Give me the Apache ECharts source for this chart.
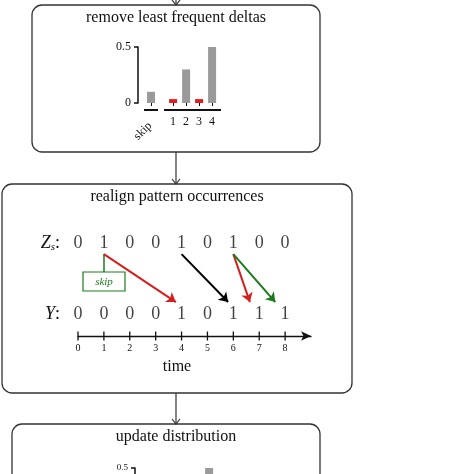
<!DOCTYPE html>
<html>
<head>
<meta charset="utf-8">
<script src="https://cdn.jsdelivr.net/npm/echarts@6/dist/echarts.min.js"></script>
<style>html,body{margin:0;background:#fff}#c{width:474px;height:474px}</style>
</head>
<body>
<div id="c"></div>
<script>
// delta distribution (top box)
var deltaPos = [-0.7, 1, 2, 3, 4];
var deltaVal = [0.1, 0.035, 0.3, 0.035, 0.5];
var deltaRemoved = [false, true, false, true, false];
// updated distribution (bottom box, mostly cut off)
var updPos = [4];
var updVal = [0.5];
// pattern rows
var zsRow = [0, 1, 0, 0, 1, 0, 1, 0, 0];
var yRow = [0, 0, 0, 0, 1, 0, 1, 1, 1];
var timeTicks = [0, 1, 2, 3, 4, 5, 6, 7, 8];
// realign arrows: [from index, to position, colour]
var moves = [[1, 3.78, '#d41f1f'], [4, 5.8, '#000'], [6, 6.64, '#d41f1f'], [6, 7.62, '#1d7a1d']];

var serif = 'Liberation Serif';
var Chart = echarts.init(document.getElementById('c'));

function arrowDown(x, y1, y2) {
    return [
        {type: 'line', shape: {x1: x, y1: y1, x2: x, y2: y2}, style: {stroke: '#333', lineWidth: 1.2}},
        {type: 'polyline', shape: {points: [[x - 4, y2 - 5], [x, y2], [x + 4, y2 - 5]]}, style: {stroke: '#333', lineWidth: 1.2, fill: null}}
    ];
}
function box(x, y, w, h) {
    return {type: 'rect', shape: {x: x, y: y, width: w, height: h, r: 10}, style: {stroke: '#333', lineWidth: 1.3, fill: null}, z: -1};
}
function title(t, x, y) {
    return {type: 'text', x: x, y: y, style: {text: t, font: '16px ' + serif, fill: '#111', align: 'center', verticalAlign: 'middle'}};
}

var graphics = [].concat(
    arrowDown(176, -2, 5), arrowDown(176, 152, 184), arrowDown(176, 393, 424),
    [box(32, 5, 288, 147), box(2, 184, 350, 209), box(12, 424, 308, 80),
     title('remove least frequent deltas', 176, 18),
     title('realign pattern occurrences', 177, 197),
     title('update distribution', 176, 437),
     {type: 'line', shape: {x1: 144, y1: 110, x2: 158, y2: 110}, style: {stroke: '#111', lineWidth: 2}},
     {type: 'line', shape: {x1: 164, y1: 110, x2: 221, y2: 110}, style: {stroke: '#111', lineWidth: 2}},
     {type: 'text', x: 150, y: 124, rotation: Math.PI / 4, style: {text: 'skip', font: '12px ' + serif, fill: '#111', align: 'right', verticalAlign: 'middle'}},
     {type: 'text', x: 60, y: 243, style: {
         text: '{z|Z}{s|s}{c|:}', align: 'right', verticalAlign: 'middle',
         rich: {z: {font: 'italic 18px ' + serif, fill: '#111'}, s: {font: 'italic 11px ' + serif, fill: '#111', padding: [8, 0, 0, 0]}, c: {font: '18px ' + serif, fill: '#111'}}}},
     {type: 'text', x: 60, y: 314, style: {
         text: '{z|Y}{c|:}', align: 'right', verticalAlign: 'middle',
         rich: {z: {font: 'italic 18px ' + serif, fill: '#111'}, c: {font: '18px ' + serif, fill: '#111'}}}},
     {type: 'line', shape: {x1: 104, y1: 254, x2: 104, y2: 272}, style: {stroke: '#1d7a1d', lineWidth: 1.5}},
     {type: 'rect', shape: {x: 83, y: 272, width: 42, height: 19}, style: {stroke: '#1d7a1d', lineWidth: 1.2, fill: '#fff'}},
     {type: 'text', x: 104, y: 282, style: {text: 'skip', font: 'italic 11px ' + serif, fill: '#1d7a1d', align: 'center', verticalAlign: 'middle'}},
     {type: 'text', x: 177, y: 367, style: {text: 'time', font: '16px ' + serif, fill: '#111', align: 'center', verticalAlign: 'middle'}}]
);

var yAx = function (grid, fs) {
    return {type: 'value', gridIndex: grid, min: 0, max: 0.5, interval: 0.5, splitLine: {show: false},
        axisLine: {show: true, onZero: false, lineStyle: {color: '#111', width: 1.5}},
        axisTick: {show: true, length: 4, lineStyle: {color: '#111', width: 1.5}},
        axisLabel: {fontFamily: serif, fontSize: fs, color: '#111', margin: 7}};
};

var option = {
    animation: false,
    graphic: graphics,
    grid: [
        {left: 138, top: 47, width: 80.6, height: 56},
        {left: 78, top: 243, width: 233, height: 93},
        {left: 135, top: 468, width: 80.6, height: 56}
    ],
    xAxis: [
        {type: 'value', gridIndex: 0, min: -1.7, max: 4.5, offset: 7, splitLine: {show: false}, axisLine: {show: false},
         axisTick: {show: true, customValues: deltaPos, length: 3, lineStyle: {color: '#111'}},
         axisLabel: {customValues: [1, 2, 3, 4], margin: 6, fontFamily: serif, fontSize: 12, color: '#111'}},
        {type: 'value', gridIndex: 1, min: 0, max: 9, splitLine: {show: false},
         axisLine: {symbol: ['none', 'arrow'], symbolSize: [7, 10], lineStyle: {color: '#111', width: 1.3}},
         axisTick: {show: false},
         axisLabel: {customValues: timeTicks, margin: 7, fontFamily: serif, fontSize: 10, color: '#111'}},
        {type: 'value', gridIndex: 2, min: -1.7, max: 4.5, show: false}
    ],
    yAxis: [
        yAx(0, 12),
        {type: 'value', gridIndex: 1, min: 0, max: 1, show: false},
        yAx(2, 9)
    ],
    series: [
        {type: 'bar', xAxisIndex: 0, yAxisIndex: 0, barWidth: 8,
         data: deltaPos.map(function (p, i) {
             return {value: [p, deltaVal[i]], itemStyle: {color: deltaRemoved[i] ? '#e61c1c' : '#9a9a9a'}};
         })},
        {type: 'bar', xAxisIndex: 2, yAxisIndex: 2, barWidth: 8, itemStyle: {color: '#9a9a9a'},
         data: updPos.map(function (p, i) { return [p, updVal[i]]; })},
        {type: 'scatter', xAxisIndex: 1, yAxisIndex: 1, symbol: 'rect', symbolSize: [1.3, 9], itemStyle: {color: '#111', opacity: 1},
         data: timeTicks.map(function (t) { return [t, 0]; })},
        {type: 'scatter', xAxisIndex: 1, yAxisIndex: 1, symbolSize: 0,
         label: {show: true, position: 'inside', fontFamily: serif, fontSize: 18, color: '#111',
                 formatter: function (p) { return zsRow[p.dataIndex]; }},
         data: zsRow.map(function (v, i) { return [i, 1]; })},
        {type: 'scatter', xAxisIndex: 1, yAxisIndex: 1, symbolSize: 0,
         label: {show: true, position: 'inside', fontFamily: serif, fontSize: 18, color: '#111',
                 formatter: function (p) { return yRow[p.dataIndex]; }},
         data: yRow.map(function (v, i) { return [i, 0.237]; })},
        {type: 'lines', coordinateSystem: 'cartesian2d', xAxisIndex: 1, yAxisIndex: 1,
         symbol: ['none', 'arrow'], symbolSize: 9,
         data: moves.map(function (m) {
             return {coords: [[m[0], 0.88], [m[1], 0.365]], lineStyle: {color: m[2], width: 2, opacity: 1}};
         })}
    ]
};
Chart.setOption(option);
</script>
</body>
</html>
